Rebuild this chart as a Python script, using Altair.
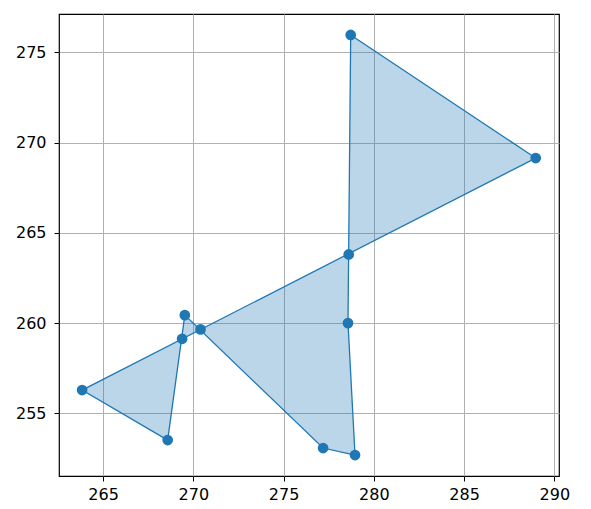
import altair as alt
import pandas as pd

# polygon vertices (in drawing order)
poly_x = [278.72, 288.97, 263.84, 268.58, 269.53, 277.19, 278.96, 278.57]
poly_y = [275.96, 269.14, 256.29, 253.52, 260.44, 253.08, 252.69, 260.00]

# marked points: vertices plus self-intersection points
pt_x = [278.72, 288.97, 278.61, 270.40, 269.53, 269.38, 263.84, 268.58, 277.19, 278.96, 278.57]
pt_y = [275.96, 269.14, 263.80, 259.65, 260.44, 259.13, 256.29, 253.52, 253.08, 252.69, 260.00]

x_ticks = [265, 270, 275, 280, 285, 290]
y_ticks = [255, 260, 265, 270, 275]
x_domain = [262.56, 290.26]
y_domain = [251.53, 277.12]

poly = pd.DataFrame({"x": poly_x + poly_x[:1], "y": poly_y + poly_y[:1],
                     "i": list(range(len(poly_x) + 1))})
pts = pd.DataFrame({"x": pt_x, "y": pt_y})

C0 = "#1f77b4"
xs = alt.Scale(domain=x_domain, nice=False, zero=False)
ys = alt.Scale(domain=y_domain, nice=False, zero=False)

axis_common = dict(grid=True, gridColor="#b0b0b0", gridWidth=1, gridOpacity=1,
                   domain=False, ticks=True, tickColor="black", tickSize=5, tickWidth=1,
                   labelFont="DejaVu Sans", labelFontSize=16, labelColor="black",
                   title=None)

xenc = alt.X("x:Q", scale=xs, axis=alt.Axis(values=x_ticks, labelPadding=5, **axis_common))
yenc = alt.Y("y:Q", scale=ys, axis=alt.Axis(values=y_ticks, labelPadding=8, **axis_common))

shape = alt.Chart(poly).mark_line(
    fill=C0, fillOpacity=0.3, stroke=C0, strokeWidth=1.3, clip=True
).encode(x=xenc, y=yenc, order="i:Q")

dots = alt.Chart(pts).mark_circle(size=115, color=C0, opacity=1).encode(
    x=alt.X("x:Q", scale=xs), y=alt.Y("y:Q", scale=ys))

chart = alt.layer(shape, dots).properties(
    width=500, height=462,
    autosize=alt.AutoSizeParams(type="none"),
    padding={"left": 51, "top": 6, "right": 24, "bottom": 30},
).configure_view(stroke="black", strokeWidth=1.2)

chart.save("out.html", embed_options={"renderer": "svg", "actions": False})
